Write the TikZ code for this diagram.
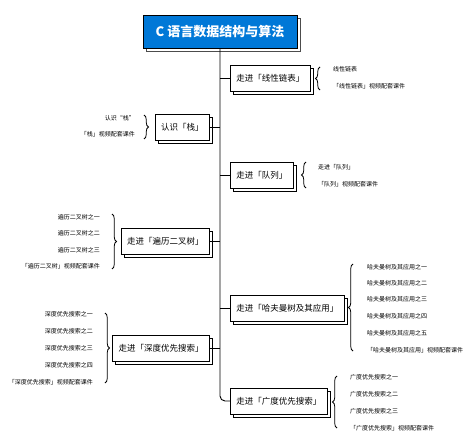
\documentclass[tikz,border=0pt]{standalone}
\usepackage{fontspec}
\setmainfont{Noto Sans CJK SC}
\usetikzlibrary{shadows,decorations.pathreplacing}
\definecolor{rootblue}{RGB}{0,120,215}
\begin{document}
\begin{tikzpicture}[x=1pt,y=-1pt,
  root/.style={draw=black, fill=rootblue, text=white, line width=0.8pt,
    minimum width=154pt, minimum height=33pt, inner sep=0pt,
    font=\fontsize{13}{15}\selectfont\bfseries,
    copy shadow={shadow xshift=3pt, shadow yshift=-3pt, draw=black!70, fill=white}},
  box/.style={draw=black, fill=white, line width=0.8pt, inner xsep=6pt, inner ysep=0pt,
    minimum height=26pt, font=\fontsize{8.5}{10}\selectfont,
    copy shadow={shadow xshift=3pt, shadow yshift=-3pt, draw=black, fill=white}},
  leaf/.style={inner sep=0pt, font=\fontsize{6}{7}\selectfont},
  link/.style={draw=black, line width=0.9pt},
  brc/.style={draw=black, line width=0.8pt, decorate,
    decoration={brace, amplitude=4.5pt}}
]
\useasboundingbox (0,0) rectangle (474,441);
\fill[white] (0,0) rectangle (474,441);

\node[root] (root) at (220,31.5) {C 语言数据结构与算法};
\node[box, anchor=west] (n1) at (230,78) {走进「线性链表」};
\node[box, anchor=east] (n2) at (210,127) {认识「栈」};
\node[box, anchor=west] (n3) at (230,175) {走进「队列」};
\node[box, anchor=east] (n4) at (210,241) {走进「遍历二叉树」};
\node[box, anchor=west] (n5) at (230,308) {走进「哈夫曼树及其应用」};
\node[box, anchor=east] (n6) at (210,348) {走进「深度优先搜索」};
\node[box, anchor=west] (n7) at (230,401) {走进「广度优先搜索」};

\draw[link, rounded corners=5pt] (root.south) |- (n7.west);
\draw[link] (n1.west) -- (n1.west -| root.south);
\draw[link] (n3.west) -- (n3.west -| root.south);
\draw[link] (n5.west) -- (n5.west -| root.south);
\draw[link] (n2.east) -- (n2.east -| root.south);
\draw[link] (n4.east) -- (n4.east -| root.south);
\draw[link] (n6.east) -- (n6.east -| root.south);

% group 1
\draw[brc] (320,90) -- (320,67);
\node[leaf, anchor=west] (a1) at (333,69) {线性链表};
\node[leaf, anchor=west] (a2) at (333,86) {「线性链表」视频配套课件};
% group 2
\draw[brc] (144,115) -- (144,139);
\node[leaf, anchor=east] (b1) at (135,118) {认识“栈”};
\node[leaf, anchor=east] (b2) at (135,134) {「栈」视频配套课件};
% group 3
\draw[brc] (306,188) -- (306,162);
\node[leaf, anchor=west] (c1) at (318,167) {走进「队列」};
\node[leaf, anchor=west] (c2) at (318,184) {「队列」视频配套课件};
% group 4
\draw[brc] (112,214) -- (112,269);
\node[leaf, anchor=east] (d1) at (100,217) {遍历二叉树之一};
\node[leaf, anchor=east] (d2) at (100,233) {遍历二叉树之二};
\node[leaf, anchor=east] (d3) at (100,250) {遍历二叉树之三};
\node[leaf, anchor=east] (d4) at (100,266) {「遍历二叉树」视频配套课件};
% group 5
\draw[brc] (353,351) -- (353,264);
\node[leaf, anchor=west] (e1) at (367,267) {哈夫曼树及其应用之一};
\node[leaf, anchor=west] (e2) at (367,283) {哈夫曼树及其应用之二};
\node[leaf, anchor=west] (e3) at (367,299) {哈夫曼树及其应用之三};
\node[leaf, anchor=west] (e4) at (367,316) {哈夫曼树及其应用之四};
\node[leaf, anchor=west] (e5) at (367,333) {哈夫曼树及其应用之五};
\node[leaf, anchor=west] (e6) at (367,350) {「哈夫曼树及其应用」视频配套课件};
% group 6
\draw[brc] (105,313) -- (105,383);
\node[leaf, anchor=east] (f1) at (93,314) {深度优先搜索之一};
\node[leaf, anchor=east] (f2) at (93,331) {深度优先搜索之二};
\node[leaf, anchor=east] (f3) at (93,348) {深度优先搜索之三};
\node[leaf, anchor=east] (f4) at (93,365) {深度优先搜索之四};
\node[leaf, anchor=east] (f5) at (93,382) {「深度优先搜索」视频配套课件};
% group 7
\draw[brc] (337,428) -- (337,376);
\node[leaf, anchor=west] (g1) at (350,377) {广度优先搜索之一};
\node[leaf, anchor=west] (g2) at (350,394) {广度优先搜索之二};
\node[leaf, anchor=west] (g3) at (350,411) {广度优先搜索之三};
\node[leaf, anchor=west] (g4) at (350,428) {「广度优先搜索」视频配套课件};
\end{tikzpicture}
\end{document}
